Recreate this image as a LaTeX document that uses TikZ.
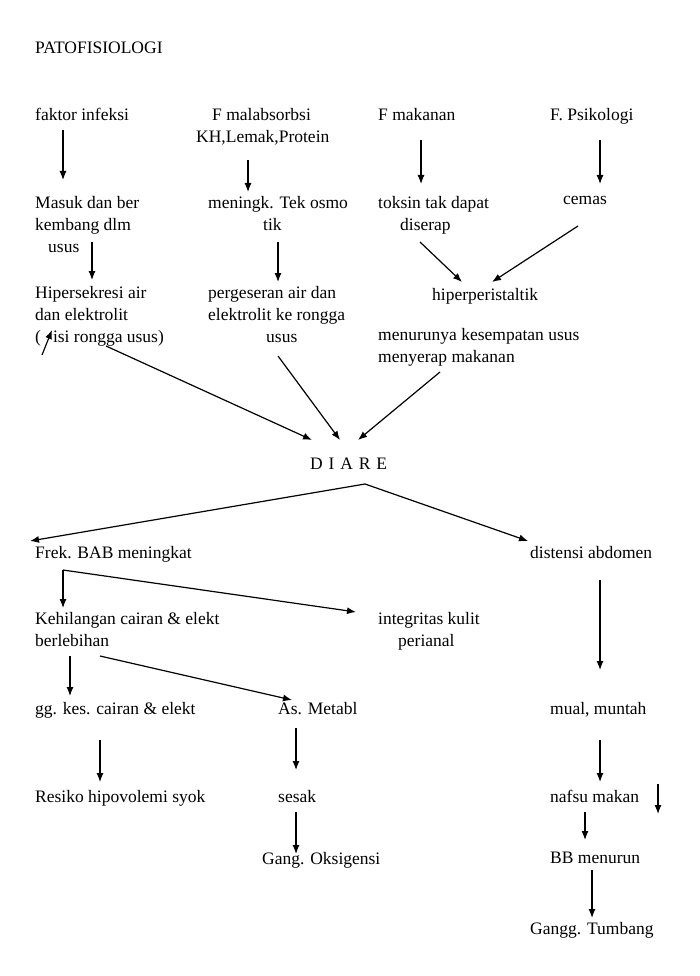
\documentclass[tikz,border=0pt]{standalone}
\usetikzlibrary{arrows.meta}
\usepackage{fontspec}
\setmainfont{Liberation Serif}
\begin{document}
\begin{tikzpicture}[x=1pt,y=-1pt,
  t/.style={anchor=north west,inner sep=0pt,align=left,font=\fontsize{17.5}{22}\selectfont},
  arr/.style={-{Latex[length=9pt,width=7pt]},line width=1.2pt},
  ln/.style={line width=1.2pt}]
\useasboundingbox[fill=white] (0,0) rectangle (700,976);
\node[t] (pat) at (35,42) {PATOFISIOLOGI};
\node[t] (fi) at (35,108) {faktor infeksi};
\node[t] (fm1) at (212,108) {F malabsorbsi};
\node[t] (fm2) at (196,130) {KH,Lemak,Protein};
\node[t] (fmk) at (378,108) {F makanan};
\node[t] (fp) at (550,108) {F. Psikologi};
\node[t] (mas) at (35,196) {Masuk dan ber\\kembang dlm\\\hspace*{13pt}usus};
\node[t] (men) at (208,196) {meningk. Tek osmo\\\hspace*{55pt}tik};
\node[t] (tok) at (378,196) {toksin tak dapat\\\hspace*{22pt}diserap};
\node[t] (cem) at (563,196) {cemas};
\node[t] (hip) at (35,286) {Hipersekresi air\\dan elektrolit\\(\hspace*{12pt}isi rongga usus)};
\node[t] (per) at (208,286) {pergeseran air dan\\elektrolit ke rongga\\\hspace*{58pt}usus};
\node[t] (hpp) at (432,288) {hiperperistaltik};
\node[t] (mnr) at (378,328) {menurunya kesempatan usus\\menyerap makanan};
\node[t] (dia) at (310,458) {D\,\,I\,\,A\,\,R\,\,E};
\node[t] (frk) at (35,546) {Frek. BAB meningkat};
\node[t] (dis) at (530,546) {distensi abdomen};
\node[t] (keh) at (35,612) {Kehilangan cairan \& elekt\\berlebihan};
\node[t] (int) at (378,612) {integritas kulit\\\hspace*{20pt}perianal};
\node[t] (gg) at (35,702) {gg. kes. cairan \& elekt};
\node[t] (as) at (278,702) {As. Metabl};
\node[t] (mual) at (550,702) {mual, muntah};
\node[t] (res) at (35,790) {Resiko hipovolemi syok};
\node[t] (ses) at (278,790) {sesak};
\node[t] (naf) at (550,790) {nafsu makan};
\node[t] (gok) at (262,852) {Gang. Oksigensi};
\node[t] (bb) at (550,852) {BB menurun};
\node[t] (tum) at (530,922) {Gangg. Tumbang};
% coordinates
\foreach \n/\x/\y in {a1/63/130,a2/63/180, b1/248/160,b2/248/192, c1/421/140,c2/421/184, d1/600/140,d2/600/184,
 e1/92/242,e2/92/280, f1/278/242,f2/278/282, g1/420/242,g2/462/282, h1/578/226,h2/492/282,
 s1/42/355,s2/52/330, i1/106/346,i2/312/440, j1/278/356,j2/340/440, k1/440/372,k2/358/440,
 m0/365/484,m1/30/541,m2/528/541, n0/63/570,n1/63/608,n2/356/612,
 o1/70/656,o2/70/696, p1/100/656,p2/292/700, q1/600/580,q2/600/670,
 r1/100/740,r2/100/782, u1/296/728,u2/296/770, v1/600/740,v2/600/782, w1/658/784,w2/658/814,
 x1/296/812,x2/296/854, y1/585/812,y2/585/840, z1/592/870,z2/592/918} {\coordinate (\n) at (\x,\y);}
\foreach \a/\b in {a1/a2,b1/b2,c1/c2,d1/d2,e1/e2,f1/f2,g1/g2,h1/h2,s1/s2,i1/i2,j1/j2,k1/k2,m0/m1,m0/m2,n0/n1,n0/n2,o1/o2,p1/p2,q1/q2,r1/r2,u1/u2,v1/v2,w1/w2,x1/x2,y1/y2,z1/z2}
  {\draw[arr] (\a) -- (\b);}
\end{tikzpicture}
\end{document}
